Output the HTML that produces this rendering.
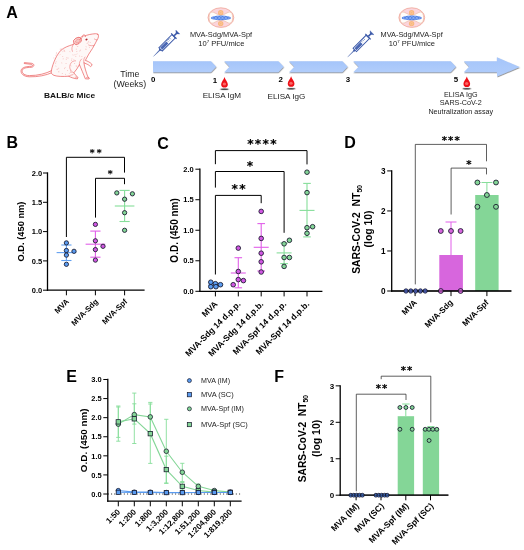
<!DOCTYPE html>
<html><head><meta charset="utf-8"><title>Figure</title>
<style>html,body{margin:0;padding:0;background:#fff;}svg{display:block;font-family:"Liberation Sans", Arial, sans-serif;}</style></head>
<body><svg width="524" height="550" viewBox="0 0 524 550">
<rect width="524" height="550" fill="#fff"/>
<text x="6.30" y="18.00" font-size="16" font-weight="bold" text-anchor="start" fill="#000" >A</text>
<text x="6.50" y="147.80" font-size="16" font-weight="bold" text-anchor="start" fill="#000" >B</text>
<text x="157.20" y="149.20" font-size="16" font-weight="bold" text-anchor="start" fill="#000" >C</text>
<text x="344.20" y="148.40" font-size="16" font-weight="bold" text-anchor="start" fill="#000" >D</text>
<text x="66.30" y="381.80" font-size="16" font-weight="bold" text-anchor="start" fill="#000" >E</text>
<text x="274.20" y="381.80" font-size="16" font-weight="bold" text-anchor="start" fill="#000" >F</text>
<defs><linearGradient id="tlg" x1="0" y1="0" x2="0" y2="1"><stop offset="0" stop-color="#a5c5fa"/><stop offset="1" stop-color="#b1cdfb"/></linearGradient><filter id="sh" x="-5%" y="-20%" width="110%" height="160%"><feDropShadow dx="0.3" dy="0.8" stdDeviation="0.4" flood-color="#444" flood-opacity="0.7"/></filter></defs>
<g filter="url(#sh)">
<polygon points="153.00,61.30 211.00,61.30 216.30,66.75 211.00,72.20 153.00,72.20" fill="url(#tlg)" stroke="none" stroke-width="0" />
<polygon points="224.20,61.30 278.40,61.30 283.70,66.75 278.40,72.20 224.20,72.20 229.50,66.75" fill="url(#tlg)" stroke="none" stroke-width="0" />
<polygon points="289.00,61.30 342.40,61.30 347.70,66.75 342.40,72.20 289.00,72.20 294.30,66.75" fill="url(#tlg)" stroke="none" stroke-width="0" />
<polygon points="353.30,61.30 450.70,61.30 456.00,66.75 450.70,72.20 353.30,72.20 358.60,66.75" fill="url(#tlg)" stroke="none" stroke-width="0" />
<polygon points="463.80,61.30 496.90,61.30 496.90,57.30 519.70,67.05 497.20,76.50 496.90,72.20 463.80,72.20 469.10,66.75" fill="url(#tlg)" stroke="none" stroke-width="0" />
</g>
<text x="129.90" y="76.60" font-size="8.8" font-weight="normal" text-anchor="middle" fill="#222" >Time</text>
<text x="129.80" y="87.40" font-size="8.8" font-weight="normal" text-anchor="middle" fill="#222" >(Weeks)</text>
<text x="153.20" y="82.40" font-size="7.9" font-weight="bold" text-anchor="middle" fill="#000" >0</text>
<text x="214.90" y="82.60" font-size="7.9" font-weight="bold" text-anchor="middle" fill="#000" >1</text>
<text x="280.80" y="82.30" font-size="7.9" font-weight="bold" text-anchor="middle" fill="#000" >2</text>
<text x="347.90" y="82.30" font-size="7.9" font-weight="bold" text-anchor="middle" fill="#000" >3</text>
<text x="455.90" y="81.90" font-size="7.9" font-weight="bold" text-anchor="middle" fill="#000" >5</text>
<ellipse cx="224.50" cy="89.20" rx="3.9" ry="0.75" fill="#2a2a2a" opacity="0.85"/>
<ellipse cx="224.50" cy="89.20" rx="5" ry="1.2" fill="#555" opacity="0.25"/>
<path d="M224.50,76.90 C225.20,79.50 227.85,82.04 227.85,84.25 A3.35,3.35 0 0 1 221.15,84.25 C221.15,82.04 223.80,79.50 224.50,76.90 Z" fill="#ee1018" stroke="none" stroke-width="0" />
<ellipse cx="224.40" cy="84.00" rx="1.7" ry="1.5" fill="#ff8d86" opacity="0.7"/>
<ellipse cx="291.10" cy="88.70" rx="3.9" ry="0.75" fill="#2a2a2a" opacity="0.85"/>
<ellipse cx="291.10" cy="88.70" rx="5" ry="1.2" fill="#555" opacity="0.25"/>
<path d="M291.10,76.30 C291.80,78.90 294.45,81.34 294.45,83.45 A3.35,3.35 0 0 1 287.75,83.45 C287.75,81.34 290.40,78.90 291.10,76.30 Z" fill="#ee1018" stroke="none" stroke-width="0" />
<ellipse cx="291.00" cy="83.20" rx="1.7" ry="1.5" fill="#ff8d86" opacity="0.7"/>
<ellipse cx="466.80" cy="88.70" rx="3.9" ry="0.75" fill="#2a2a2a" opacity="0.85"/>
<ellipse cx="466.80" cy="88.70" rx="5" ry="1.2" fill="#555" opacity="0.25"/>
<path d="M466.80,76.50 C467.50,79.10 470.15,81.54 470.15,83.65 A3.35,3.35 0 0 1 463.45,83.65 C463.45,81.54 466.10,79.10 466.80,76.50 Z" fill="#ee1018" stroke="none" stroke-width="0" />
<ellipse cx="466.70" cy="83.40" rx="1.7" ry="1.5" fill="#ff8d86" opacity="0.7"/>
<text x="221.80" y="97.80" font-size="8.1" font-weight="normal" text-anchor="middle" fill="#222" >ELISA IgM</text>
<text x="286.40" y="98.70" font-size="8.1" font-weight="normal" text-anchor="middle" fill="#222" >ELISA IgG</text>
<text x="460.80" y="96.90" font-size="7.2" font-weight="normal" text-anchor="middle" fill="#222" >ELISA IgG</text>
<text x="460.80" y="105.40" font-size="7.2" font-weight="normal" text-anchor="middle" fill="#222" >SARS-CoV-2</text>
<text x="460.80" y="114.30" font-size="7.2" font-weight="normal" text-anchor="middle" fill="#222" >Neutralization assay</text>
<text x="69.60" y="97.50" font-size="7.9" font-weight="bold" text-anchor="middle" fill="#111" textLength="51" lengthAdjust="spacingAndGlyphs">BALB/c Mice</text>
<text x="221.00" y="37.00" font-size="7.7" font-weight="normal" text-anchor="middle" fill="#222" textLength="62.2" lengthAdjust="spacingAndGlyphs">MVA-Sdg/MVA-Spf</text>
<text x="221.30" y="45.7" font-size="7.55" text-anchor="middle" fill="#222">10<tspan font-size="4.4" dy="-3.1">7</tspan><tspan dy="3.1"> PFU/mice</tspan></text>
<text x="411.60" y="37.00" font-size="7.7" font-weight="normal" text-anchor="middle" fill="#222" textLength="62.2" lengthAdjust="spacingAndGlyphs">MVA-Sdg/MVA-Spf</text>
<text x="411.90" y="45.7" font-size="7.55" text-anchor="middle" fill="#222">10<tspan font-size="4.4" dy="-3.1">7</tspan><tspan dy="3.1"> PFU/mice</tspan></text>
<g transform="translate(220.9,17.6)">
<ellipse cx="0" cy="0" rx="12.9" ry="9.8" fill="#fbd5dc" stroke="#efa595" stroke-width="0.8"/>
<path d="M-11.8,0 C-11.8,-3.6 -10.6,-5.4 -9,-5.6 C-6.5,-5.8 -4.5,-2.6 0,-2.6 C4.5,-2.6 6.5,-5.8 9,-5.6 C10.6,-5.4 11.8,-3.6 11.8,0 C11.8,3.6 10.6,5.4 9,5.6 C6.5,5.8 4.5,2.6 0,2.6 C-4.5,2.6 -6.5,5.8 -9,5.6 C-10.6,5.4 -11.8,3.6 -11.8,0 Z" fill="#fffdfb" stroke="#e9b39a" stroke-width="0.6" />
<circle cx="-0.2" cy="-4.9" r="2.7" fill="#f9b77e"/>
<circle cx="-0.2" cy="6.0" r="2.7" fill="#f9b77e"/>
<circle cx="-0.2" cy="-4.9" r="1.2" fill="none" stroke="#fbd0a6" stroke-width="0.5"/>
<circle cx="-0.2" cy="6.0" r="1.2" fill="none" stroke="#fbd0a6" stroke-width="0.5"/>
<ellipse cx="0" cy="0.3" rx="10.1" ry="2.3" fill="#4f80e6"/>
<path d="M-8.6,0.3 C-7.5,-1.6 -6,-1.6 -5,0.3 C-4,2.2 -2.5,2.2 -1.6,0.3 C-0.8,-1.6 0.8,-1.6 1.6,0.3 C2.5,2.2 4,2.2 5,0.3 C6,-1.6 7.5,-1.6 8.6,0.3 M-8.6,0.3 C-7.5,2.2 -6,2.2 -5,0.3 C-4,-1.6 -2.5,-1.6 -1.6,0.3 C-0.8,2.2 0.8,2.2 1.6,0.3 C2.5,-1.6 4,-1.6 5,0.3 C6,2.2 7.5,2.2 8.6,0.3" fill="none" stroke="#a9c6f8" stroke-width="0.55" />
</g>
<g transform="translate(411.8,17.6)">
<ellipse cx="0" cy="0" rx="12.9" ry="9.8" fill="#fbd5dc" stroke="#efa595" stroke-width="0.8"/>
<path d="M-11.8,0 C-11.8,-3.6 -10.6,-5.4 -9,-5.6 C-6.5,-5.8 -4.5,-2.6 0,-2.6 C4.5,-2.6 6.5,-5.8 9,-5.6 C10.6,-5.4 11.8,-3.6 11.8,0 C11.8,3.6 10.6,5.4 9,5.6 C6.5,5.8 4.5,2.6 0,2.6 C-4.5,2.6 -6.5,5.8 -9,5.6 C-10.6,5.4 -11.8,3.6 -11.8,0 Z" fill="#fffdfb" stroke="#e9b39a" stroke-width="0.6" />
<circle cx="-0.2" cy="-4.9" r="2.7" fill="#f9b77e"/>
<circle cx="-0.2" cy="6.0" r="2.7" fill="#f9b77e"/>
<circle cx="-0.2" cy="-4.9" r="1.2" fill="none" stroke="#fbd0a6" stroke-width="0.5"/>
<circle cx="-0.2" cy="6.0" r="1.2" fill="none" stroke="#fbd0a6" stroke-width="0.5"/>
<ellipse cx="0" cy="0.3" rx="10.1" ry="2.3" fill="#4f80e6"/>
<path d="M-8.6,0.3 C-7.5,-1.6 -6,-1.6 -5,0.3 C-4,2.2 -2.5,2.2 -1.6,0.3 C-0.8,-1.6 0.8,-1.6 1.6,0.3 C2.5,2.2 4,2.2 5,0.3 C6,-1.6 7.5,-1.6 8.6,0.3 M-8.6,0.3 C-7.5,2.2 -6,2.2 -5,0.3 C-4,-1.6 -2.5,-1.6 -1.6,0.3 C-0.8,2.2 0.8,2.2 1.6,0.3 C2.5,-1.6 4,-1.6 5,0.3 C6,2.2 7.5,2.2 8.6,0.3" fill="none" stroke="#a9c6f8" stroke-width="0.55" />
</g>
<g transform="translate(153.5,56.4) rotate(-45)">
<path d="M0,0 L9.5,-0.45 L9.5,0.45 Z" fill="#3a58a8" stroke="#3a58a8" stroke-width="0.25" />
<rect x="8.60" y="-1.00" width="1.60" height="2.00" fill="#3a58a8" stroke="none" stroke-width="0" />
<rect x="10.00" y="-2.40" width="18.40" height="4.80" fill="#fff" stroke="#3a58a8" stroke-width="0.95" />
<rect x="11.00" y="-1.45" width="8.60" height="2.90" fill="#4a67b4" stroke="none" stroke-width="0" />
<line x1="20.90" y1="-2.00" x2="20.90" y2="0.10" stroke="#3a58a8" stroke-width="0.6" />
<line x1="22.60" y1="-2.00" x2="22.60" y2="0.10" stroke="#3a58a8" stroke-width="0.6" />
<line x1="24.30" y1="-2.00" x2="24.30" y2="0.10" stroke="#3a58a8" stroke-width="0.6" />
<rect x="28.20" y="-3.80" width="1.15" height="7.60" fill="#3a58a8" stroke="none" stroke-width="0" />
<rect x="29.20" y="-0.80" width="4.40" height="1.60" fill="#3a58a8" stroke="none" stroke-width="0" />
<path d="M32.6,-0.8 L34.4,-2.8 L34.4,2.8 L32.6,0.8 Z" fill="#3a58a8" stroke="#3a58a8" stroke-width="0.3" />
</g>
<g transform="translate(347.7,57.0) rotate(-45)">
<path d="M0,0 L9.5,-0.45 L9.5,0.45 Z" fill="#3a58a8" stroke="#3a58a8" stroke-width="0.25" />
<rect x="8.60" y="-1.00" width="1.60" height="2.00" fill="#3a58a8" stroke="none" stroke-width="0" />
<rect x="10.00" y="-2.40" width="18.40" height="4.80" fill="#fff" stroke="#3a58a8" stroke-width="0.95" />
<rect x="11.00" y="-1.45" width="8.60" height="2.90" fill="#4a67b4" stroke="none" stroke-width="0" />
<line x1="20.90" y1="-2.00" x2="20.90" y2="0.10" stroke="#3a58a8" stroke-width="0.6" />
<line x1="22.60" y1="-2.00" x2="22.60" y2="0.10" stroke="#3a58a8" stroke-width="0.6" />
<line x1="24.30" y1="-2.00" x2="24.30" y2="0.10" stroke="#3a58a8" stroke-width="0.6" />
<rect x="28.20" y="-3.80" width="1.15" height="7.60" fill="#3a58a8" stroke="none" stroke-width="0" />
<rect x="29.20" y="-0.80" width="4.40" height="1.60" fill="#3a58a8" stroke="none" stroke-width="0" />
<path d="M32.6,-0.8 L34.4,-2.8 L34.4,2.8 L32.6,0.8 Z" fill="#3a58a8" stroke="#3a58a8" stroke-width="0.3" />
</g>
<g fill="#fef8f7" stroke="#e84e4e" stroke-width="0.65" stroke-linejoin="round" stroke-linecap="round">
<path d="M51.6,70.6 C46,73.6 38,75.6 29.4,75.6 C24.6,75.5 21.8,73.4 22.2,70.6 C22.7,67.8 27,67.5 31.2,67.3 C34.6,67 34.8,63.7 31.6,63.3 L24.3,62.6 L24.2,63.5 L31,64.3 C33,64.5 33,66.2 31.2,66.3 C27,66.5 21.8,66.9 21.1,70.4 C20.6,73.6 23.4,76.5 29.2,76.8 C38,77 46,75.4 52.2,72.6 Z"/>
<path d="M97.9,34.3 C99.1,35.5 98.5,38 97.1,39.8 C96,42 95,44 94.2,45.4 C93,47.6 92,49.4 90.8,51 C89.4,53 88,55.4 87.2,57 C86.4,58.6 85.6,59.8 85.3,60.4 C87.6,61 90,62.4 91.6,63.9 L92.1,65.2 L90.6,66.6 C89,65.2 87.4,64.2 86.2,63.8 C85,63.4 84.3,63 83.9,62.6 C84.4,67 86.4,73 87.9,77 L89.4,78 L88.9,79 L85.3,78.8 C83.6,74.6 81.2,68.6 79.4,64.6 C78,67.4 76,70.6 73.8,72.9 L77.9,77.6 L77.4,78.9 C74,78.6 71,77.4 68.6,76.2 C63,76.7 57,76.5 54,75.4 C51.6,74.4 50.8,72.6 51.3,71 C52,67 53.6,62.4 55.3,58.9 C57,55.4 58.7,52.6 61,50.2 C64,47.6 68,46 73.4,44.4 C75,42 77.6,39 80.2,37.6 C81.6,36.8 83,36.3 84.5,36 C87,35 91,34 95.4,33.7 C96.4,33.7 97.3,33.9 97.9,34.3 Z"/>
<path d="M82.3,37 C82,35.6 83.2,34.7 84.4,35 C85.3,35.2 85.7,36 85.5,36.6" fill="#fbdedc"/>
<ellipse cx="77.5" cy="40.8" rx="4.3" ry="3.1" transform="rotate(-32 77.5 40.8)" fill="#fbd9d7"/>
<ellipse cx="77.9" cy="41" rx="2.6" ry="1.7" transform="rotate(-32 77.9 41)" fill="#f7c3c1" stroke-width="0.3"/>
<path d="M73.8,72.9 C70.2,71.4 68.8,67.4 70.4,64 C71.4,61.8 73.6,60.6 75.6,60.8 M79.4,64.6 C79.2,62.6 80,60.4 81.6,59 M83.9,62.6 C83.4,60.4 83.8,58.4 85,57 M94.2,45.4 C92.4,46 90.2,45.8 88.6,45 M73.4,44.4 C71.8,46.4 71.4,49 72.4,51.4 M97.1,39.8 C96,39.9 95,39.5 94.3,38.9 M68.6,76.2 C70,75.4 71.6,74.8 73,74.6 M75.2,77.2 L77.2,77.3 M86.4,77.6 L88.4,77.7" fill="none" stroke-width="0.45"/>
</g>
<ellipse cx="86.5" cy="39.5" rx="1.15" ry="0.8" fill="#b3262c" transform="rotate(-28 86.5 39.5)"/>
<line x1="55.44" y1="55.79" x2="56.33" y2="55.90" stroke="#ee8886" stroke-width="0.45" />
<line x1="56.81" y1="52.56" x2="56.04" y2="53.02" stroke="#ee8886" stroke-width="0.45" />
<line x1="77.24" y1="51.47" x2="76.34" y2="51.54" stroke="#ee8886" stroke-width="0.45" />
<line x1="87.28" y1="43.05" x2="87.05" y2="43.92" stroke="#ee8886" stroke-width="0.45" />
<line x1="79.83" y1="50.52" x2="79.70" y2="51.41" stroke="#ee8886" stroke-width="0.45" />
<line x1="61.65" y1="62.54" x2="61.85" y2="63.41" stroke="#ee8886" stroke-width="0.45" />
<line x1="66.19" y1="58.84" x2="66.33" y2="59.73" stroke="#ee8886" stroke-width="0.45" />
<line x1="65.59" y1="66.98" x2="65.06" y2="67.71" stroke="#ee8886" stroke-width="0.45" />
<line x1="63.25" y1="58.40" x2="63.18" y2="59.30" stroke="#ee8886" stroke-width="0.45" />
<line x1="65.09" y1="74.23" x2="65.93" y2="74.55" stroke="#ee8886" stroke-width="0.45" />
<line x1="70.56" y1="65.53" x2="71.36" y2="65.94" stroke="#ee8886" stroke-width="0.45" />
<line x1="66.18" y1="63.12" x2="65.92" y2="63.98" stroke="#ee8886" stroke-width="0.45" />
<line x1="77.36" y1="53.79" x2="76.57" y2="54.23" stroke="#ee8886" stroke-width="0.45" />
<line x1="64.95" y1="51.05" x2="64.50" y2="51.82" stroke="#ee8886" stroke-width="0.45" />
<line x1="55.48" y1="65.96" x2="56.30" y2="66.32" stroke="#ee8886" stroke-width="0.45" />
<line x1="63.40" y1="51.25" x2="62.57" y2="51.60" stroke="#ee8886" stroke-width="0.45" />
<line x1="56.38" y1="53.52" x2="56.25" y2="54.41" stroke="#ee8886" stroke-width="0.45" />
<line x1="89.29" y1="46.86" x2="89.52" y2="47.73" stroke="#ee8886" stroke-width="0.45" />
<line x1="68.07" y1="70.48" x2="67.18" y2="70.60" stroke="#ee8886" stroke-width="0.45" />
<line x1="73.37" y1="58.98" x2="73.98" y2="59.64" stroke="#ee8886" stroke-width="0.45" />
<line x1="68.51" y1="58.09" x2="67.62" y2="58.22" stroke="#ee8886" stroke-width="0.45" />
<line x1="82.00" y1="56.10" x2="81.68" y2="56.94" stroke="#ee8886" stroke-width="0.45" />
<line x1="69.48" y1="51.56" x2="70.33" y2="51.85" stroke="#ee8886" stroke-width="0.45" />
<line x1="59.82" y1="49.26" x2="60.70" y2="49.41" stroke="#ee8886" stroke-width="0.45" />
<line x1="63.59" y1="49.55" x2="63.97" y2="50.37" stroke="#ee8886" stroke-width="0.45" />
<line x1="58.16" y1="69.11" x2="57.26" y2="69.13" stroke="#ee8886" stroke-width="0.45" />
<line x1="72.57" y1="54.87" x2="73.44" y2="55.11" stroke="#ee8886" stroke-width="0.45" />
<line x1="64.12" y1="68.33" x2="64.91" y2="68.76" stroke="#ee8886" stroke-width="0.45" />
<line x1="63.97" y1="50.30" x2="64.75" y2="50.75" stroke="#ee8886" stroke-width="0.45" />
<line x1="85.72" y1="48.86" x2="86.41" y2="49.44" stroke="#ee8886" stroke-width="0.45" />
<line x1="62.52" y1="56.19" x2="62.92" y2="57.00" stroke="#ee8886" stroke-width="0.45" />
<line x1="71.78" y1="72.54" x2="70.88" y2="72.58" stroke="#ee8886" stroke-width="0.45" />
<line x1="56.56" y1="61.76" x2="55.70" y2="62.02" stroke="#ee8886" stroke-width="0.45" />
<line x1="86.14" y1="48.97" x2="85.41" y2="49.50" stroke="#ee8886" stroke-width="0.45" />
<line x1="69.86" y1="72.93" x2="69.27" y2="73.61" stroke="#ee8886" stroke-width="0.45" />
<line x1="59.35" y1="71.29" x2="58.61" y2="71.80" stroke="#ee8886" stroke-width="0.45" />
<line x1="59.14" y1="68.23" x2="58.24" y2="68.29" stroke="#ee8886" stroke-width="0.45" />
<line x1="80.61" y1="49.67" x2="80.47" y2="50.56" stroke="#ee8886" stroke-width="0.45" />
<line x1="71.22" y1="70.00" x2="70.45" y2="70.47" stroke="#ee8886" stroke-width="0.45" />
<line x1="77.63" y1="46.12" x2="77.86" y2="46.99" stroke="#ee8886" stroke-width="0.45" />
<line x1="58.51" y1="71.49" x2="58.90" y2="72.30" stroke="#ee8886" stroke-width="0.45" />
<line x1="72.24" y1="58.75" x2="71.38" y2="59.02" stroke="#ee8886" stroke-width="0.45" />
<line x1="70.67" y1="71.79" x2="70.66" y2="72.69" stroke="#ee8886" stroke-width="0.45" />
<line x1="75.34" y1="56.42" x2="76.24" y2="56.47" stroke="#ee8886" stroke-width="0.45" />
<line x1="60.24" y1="54.47" x2="59.65" y2="55.15" stroke="#ee8886" stroke-width="0.45" />
<line x1="76.37" y1="48.71" x2="76.32" y2="49.61" stroke="#ee8886" stroke-width="0.45" />
<line x1="76.33" y1="66.59" x2="77.18" y2="66.88" stroke="#ee8886" stroke-width="0.45" />
<line x1="76.53" y1="45.69" x2="77.11" y2="46.38" stroke="#ee8886" stroke-width="0.45" />
<line x1="76.59" y1="65.64" x2="75.73" y2="65.89" stroke="#ee8886" stroke-width="0.45" />
<line x1="71.62" y1="59.89" x2="71.60" y2="60.79" stroke="#ee8886" stroke-width="0.45" />
<line x1="74.51" y1="63.02" x2="74.65" y2="63.91" stroke="#ee8886" stroke-width="0.45" />
<line x1="75.40" y1="54.64" x2="74.51" y2="54.81" stroke="#ee8886" stroke-width="0.45" />
<line x1="88.28" y1="41.35" x2="89.12" y2="41.68" stroke="#ee8886" stroke-width="0.45" />
<line x1="90.68" y1="42.02" x2="90.11" y2="42.72" stroke="#ee8886" stroke-width="0.45" />
<line x1="62.22" y1="73.15" x2="62.51" y2="74.00" stroke="#ee8886" stroke-width="0.45" />
<line x1="87.96" y1="42.30" x2="88.16" y2="43.18" stroke="#ee8886" stroke-width="0.45" />
<line x1="61.22" y1="48.42" x2="60.64" y2="49.11" stroke="#ee8886" stroke-width="0.45" />
<line x1="53.82" y1="57.61" x2="53.99" y2="58.49" stroke="#ee8886" stroke-width="0.45" />
<line x1="79.20" y1="55.98" x2="80.09" y2="56.16" stroke="#ee8886" stroke-width="0.45" />
<line x1="85.72" y1="46.55" x2="86.54" y2="46.90" stroke="#ee8886" stroke-width="0.45" />
<line x1="70.73" y1="71.55" x2="69.98" y2="72.03" stroke="#ee8886" stroke-width="0.45" />
<line x1="55.42" y1="62.84" x2="55.63" y2="63.72" stroke="#ee8886" stroke-width="0.45" />
<line x1="56.52" y1="69.39" x2="57.40" y2="69.58" stroke="#ee8886" stroke-width="0.45" />
<line x1="67.24" y1="57.57" x2="66.37" y2="57.78" stroke="#ee8886" stroke-width="0.45" />
<line x1="47.50" y1="172.35" x2="47.50" y2="290.85" stroke="#000" stroke-width="1.3" />
<line x1="46.85" y1="290.20" x2="144.60" y2="290.20" stroke="#000" stroke-width="1.3" />
<line x1="43.00" y1="290.20" x2="47.50" y2="290.20" stroke="#000" stroke-width="1.0" />
<text x="42.30" y="292.90" font-size="7.5" font-weight="bold" text-anchor="end" fill="#000" >0.0</text>
<line x1="43.00" y1="260.90" x2="47.50" y2="260.90" stroke="#000" stroke-width="1.0" />
<text x="42.30" y="263.60" font-size="7.5" font-weight="bold" text-anchor="end" fill="#000" >0.5</text>
<line x1="43.00" y1="231.60" x2="47.50" y2="231.60" stroke="#000" stroke-width="1.0" />
<text x="42.30" y="234.30" font-size="7.5" font-weight="bold" text-anchor="end" fill="#000" >1.0</text>
<line x1="43.00" y1="202.30" x2="47.50" y2="202.30" stroke="#000" stroke-width="1.0" />
<text x="42.30" y="205.00" font-size="7.5" font-weight="bold" text-anchor="end" fill="#000" >1.5</text>
<line x1="43.00" y1="173.00" x2="47.50" y2="173.00" stroke="#000" stroke-width="1.0" />
<text x="42.30" y="175.70" font-size="7.5" font-weight="bold" text-anchor="end" fill="#000" >2.0</text>
<line x1="66.40" y1="290.20" x2="66.40" y2="295.30" stroke="#000" stroke-width="1.0" />
<line x1="95.40" y1="290.20" x2="95.40" y2="295.30" stroke="#000" stroke-width="1.0" />
<line x1="124.60" y1="290.20" x2="124.60" y2="295.30" stroke="#000" stroke-width="1.0" />
<text x="0" y="0" transform="translate(23.70,231.50) rotate(-90)" font-size="9.3" font-weight="bold" text-anchor="middle" fill="#000" >O.D. (450 nm)</text>
<path d="M66.40,237.00 V157.30 H124.50 V172.60" fill="none" stroke="#000" stroke-width="1.0" />
<text x="96.75" y="155.70" font-size="9.2" font-weight="bold" text-anchor="middle" fill="#000" letter-spacing="2.3" font-family="DejaVu Sans, sans-serif" stroke="#000" stroke-width="0.15">**</text>
<path d="M95.50,217.60 V178.30 H124.50 V184.20" fill="none" stroke="#000" stroke-width="1.0" />
<text x="111.35" y="176.70" font-size="9.2" font-weight="bold" text-anchor="middle" fill="#000" letter-spacing="2.3" font-family="DejaVu Sans, sans-serif" stroke="#000" stroke-width="0.15">*</text>
<line x1="66.40" y1="245.00" x2="66.40" y2="260.50" stroke="#62a0f1" stroke-width="1.1" />
<line x1="56.60" y1="252.60" x2="76.20" y2="252.60" stroke="#62a0f1" stroke-width="1.1" />
<line x1="61.30" y1="245.00" x2="71.50" y2="245.00" stroke="#62a0f1" stroke-width="1.1" />
<line x1="61.30" y1="260.50" x2="71.50" y2="260.50" stroke="#62a0f1" stroke-width="1.1" />
<line x1="95.40" y1="231.10" x2="95.40" y2="257.20" stroke="#e15fe9" stroke-width="1.1" />
<line x1="85.60" y1="244.20" x2="105.20" y2="244.20" stroke="#e15fe9" stroke-width="1.1" />
<line x1="90.30" y1="231.10" x2="100.50" y2="231.10" stroke="#e15fe9" stroke-width="1.1" />
<line x1="90.30" y1="257.20" x2="100.50" y2="257.20" stroke="#e15fe9" stroke-width="1.1" />
<line x1="124.60" y1="190.40" x2="124.60" y2="221.50" stroke="#86de9a" stroke-width="1.1" />
<line x1="114.80" y1="206.00" x2="134.40" y2="206.00" stroke="#86de9a" stroke-width="1.1" />
<line x1="119.50" y1="190.40" x2="129.70" y2="190.40" stroke="#86de9a" stroke-width="1.1" />
<line x1="119.50" y1="221.50" x2="129.70" y2="221.50" stroke="#86de9a" stroke-width="1.1" />
<circle cx="66.40" cy="242.90" r="2.15" fill="#5a9bf0" stroke="#15172a" stroke-width="0.85"/>
<circle cx="66.40" cy="250.50" r="2.15" fill="#5a9bf0" stroke="#15172a" stroke-width="0.85"/>
<circle cx="74.00" cy="251.30" r="2.15" fill="#5a9bf0" stroke="#15172a" stroke-width="0.85"/>
<circle cx="66.40" cy="255.10" r="2.15" fill="#5a9bf0" stroke="#15172a" stroke-width="0.85"/>
<circle cx="66.40" cy="264.30" r="2.15" fill="#5a9bf0" stroke="#15172a" stroke-width="0.85"/>
<circle cx="95.40" cy="224.40" r="2.15" fill="#d257e3" stroke="#15172a" stroke-width="0.85"/>
<circle cx="95.40" cy="240.80" r="2.15" fill="#d257e3" stroke="#15172a" stroke-width="0.85"/>
<circle cx="103.00" cy="246.30" r="2.15" fill="#d257e3" stroke="#15172a" stroke-width="0.85"/>
<circle cx="95.40" cy="249.60" r="2.15" fill="#d257e3" stroke="#15172a" stroke-width="0.85"/>
<circle cx="95.40" cy="260.10" r="2.15" fill="#d257e3" stroke="#15172a" stroke-width="0.85"/>
<circle cx="116.80" cy="192.90" r="2.15" fill="#84d697" stroke="#15172a" stroke-width="0.85"/>
<circle cx="132.40" cy="193.80" r="2.15" fill="#84d697" stroke="#15172a" stroke-width="0.85"/>
<circle cx="124.60" cy="199.20" r="2.15" fill="#84d697" stroke="#15172a" stroke-width="0.85"/>
<circle cx="124.60" cy="212.70" r="2.15" fill="#84d697" stroke="#15172a" stroke-width="0.85"/>
<circle cx="124.60" cy="230.30" r="2.15" fill="#84d697" stroke="#15172a" stroke-width="0.85"/>
<text x="0" y="0" transform="translate(69.60,302.10) rotate(-45)" font-size="7.8" font-weight="bold" text-anchor="end" fill="#000" >MVA</text>
<text x="0" y="0" transform="translate(98.60,302.10) rotate(-45)" font-size="7.8" font-weight="bold" text-anchor="end" fill="#000" >MVA-Sdg</text>
<text x="0" y="0" transform="translate(127.80,302.10) rotate(-45)" font-size="7.8" font-weight="bold" text-anchor="end" fill="#000" >MVA-Spf</text>
<line x1="199.90" y1="168.55" x2="199.90" y2="291.95" stroke="#000" stroke-width="1.3" />
<line x1="199.25" y1="291.30" x2="322.40" y2="291.30" stroke="#000" stroke-width="1.3" />
<line x1="195.40" y1="291.30" x2="199.90" y2="291.30" stroke="#000" stroke-width="1.0" />
<text x="193.80" y="294.00" font-size="7.5" font-weight="bold" text-anchor="end" fill="#000" >0.0</text>
<line x1="195.40" y1="260.78" x2="199.90" y2="260.78" stroke="#000" stroke-width="1.0" />
<text x="193.80" y="263.48" font-size="7.5" font-weight="bold" text-anchor="end" fill="#000" >0.5</text>
<line x1="195.40" y1="230.25" x2="199.90" y2="230.25" stroke="#000" stroke-width="1.0" />
<text x="193.80" y="232.95" font-size="7.5" font-weight="bold" text-anchor="end" fill="#000" >1.0</text>
<line x1="195.40" y1="199.73" x2="199.90" y2="199.73" stroke="#000" stroke-width="1.0" />
<text x="193.80" y="202.43" font-size="7.5" font-weight="bold" text-anchor="end" fill="#000" >1.5</text>
<line x1="195.40" y1="169.20" x2="199.90" y2="169.20" stroke="#000" stroke-width="1.0" />
<text x="193.80" y="171.90" font-size="7.5" font-weight="bold" text-anchor="end" fill="#000" >2.0</text>
<line x1="215.40" y1="291.30" x2="215.40" y2="296.40" stroke="#000" stroke-width="1.0" />
<line x1="238.30" y1="291.30" x2="238.30" y2="296.40" stroke="#000" stroke-width="1.0" />
<line x1="261.20" y1="291.30" x2="261.20" y2="296.40" stroke="#000" stroke-width="1.0" />
<line x1="284.10" y1="291.30" x2="284.10" y2="296.40" stroke="#000" stroke-width="1.0" />
<line x1="307.00" y1="291.30" x2="307.00" y2="296.40" stroke="#000" stroke-width="1.0" />
<text x="0" y="0" transform="translate(177.60,230.40) rotate(-90)" font-size="10" font-weight="bold" text-anchor="middle" fill="#000" >O.D. (450 nm)</text>
<path d="M215.40,164.20 V150.60 H307.00 V164.40" fill="none" stroke="#000" stroke-width="1.0" />
<text x="262.55" y="148.13" font-size="12.2" font-weight="bold" text-anchor="middle" fill="#000" letter-spacing="1.3" font-family="DejaVu Sans, sans-serif" stroke="#000" stroke-width="0.15">****</text>
<path d="M215.40,187.60 V171.50 H284.10 V232.80" fill="none" stroke="#000" stroke-width="1.0" />
<text x="250.55" y="169.73" font-size="12.2" font-weight="bold" text-anchor="middle" fill="#000" letter-spacing="1.3" font-family="DejaVu Sans, sans-serif" stroke="#000" stroke-width="0.15">*</text>
<path d="M215.40,274.50 V195.40 H261.20 V203.20" fill="none" stroke="#000" stroke-width="1.0" />
<text x="239.25" y="193.43" font-size="12.2" font-weight="bold" text-anchor="middle" fill="#000" letter-spacing="1.3" font-family="DejaVu Sans, sans-serif" stroke="#000" stroke-width="0.15">**</text>
<line x1="215.40" y1="283.20" x2="215.40" y2="286.80" stroke="#62a0f1" stroke-width="1.1" />
<line x1="208.00" y1="285.00" x2="222.80" y2="285.00" stroke="#62a0f1" stroke-width="1.1" />
<line x1="211.70" y1="283.20" x2="219.10" y2="283.20" stroke="#62a0f1" stroke-width="1.1" />
<line x1="211.70" y1="286.80" x2="219.10" y2="286.80" stroke="#62a0f1" stroke-width="1.1" />
<line x1="238.30" y1="257.70" x2="238.30" y2="287.80" stroke="#e15fe9" stroke-width="1.1" />
<line x1="230.80" y1="273.00" x2="245.80" y2="273.00" stroke="#e15fe9" stroke-width="1.1" />
<line x1="234.50" y1="257.70" x2="242.10" y2="257.70" stroke="#e15fe9" stroke-width="1.1" />
<line x1="234.50" y1="287.80" x2="242.10" y2="287.80" stroke="#e15fe9" stroke-width="1.1" />
<line x1="261.20" y1="223.60" x2="261.20" y2="271.00" stroke="#e15fe9" stroke-width="1.1" />
<line x1="253.70" y1="247.30" x2="268.70" y2="247.30" stroke="#e15fe9" stroke-width="1.1" />
<line x1="257.40" y1="223.60" x2="265.00" y2="223.60" stroke="#e15fe9" stroke-width="1.1" />
<line x1="257.40" y1="271.00" x2="265.00" y2="271.00" stroke="#e15fe9" stroke-width="1.1" />
<line x1="284.10" y1="243.00" x2="284.10" y2="263.60" stroke="#86de9a" stroke-width="1.1" />
<line x1="276.60" y1="252.90" x2="291.60" y2="252.90" stroke="#86de9a" stroke-width="1.1" />
<line x1="280.30" y1="243.00" x2="287.90" y2="243.00" stroke="#86de9a" stroke-width="1.1" />
<line x1="280.30" y1="263.60" x2="287.90" y2="263.60" stroke="#86de9a" stroke-width="1.1" />
<line x1="307.00" y1="183.40" x2="307.00" y2="236.90" stroke="#86de9a" stroke-width="1.1" />
<line x1="299.50" y1="210.40" x2="314.50" y2="210.40" stroke="#86de9a" stroke-width="1.1" />
<line x1="303.20" y1="183.40" x2="310.80" y2="183.40" stroke="#86de9a" stroke-width="1.1" />
<line x1="303.20" y1="236.90" x2="310.80" y2="236.90" stroke="#86de9a" stroke-width="1.1" />
<circle cx="210.80" cy="282.20" r="2.3" fill="#5a9bf0" stroke="#15172a" stroke-width="0.85"/>
<circle cx="215.40" cy="283.70" r="2.3" fill="#5a9bf0" stroke="#15172a" stroke-width="0.85"/>
<circle cx="220.50" cy="284.70" r="2.3" fill="#5a9bf0" stroke="#15172a" stroke-width="0.85"/>
<circle cx="210.80" cy="286.70" r="2.3" fill="#5a9bf0" stroke="#15172a" stroke-width="0.85"/>
<circle cx="215.90" cy="286.70" r="2.3" fill="#5a9bf0" stroke="#15172a" stroke-width="0.85"/>
<circle cx="238.30" cy="248.10" r="2.3" fill="#d257e3" stroke="#15172a" stroke-width="0.85"/>
<circle cx="238.30" cy="271.50" r="2.3" fill="#d257e3" stroke="#15172a" stroke-width="0.85"/>
<circle cx="243.40" cy="280.60" r="2.3" fill="#d257e3" stroke="#15172a" stroke-width="0.85"/>
<circle cx="238.30" cy="279.60" r="2.3" fill="#d257e3" stroke="#15172a" stroke-width="0.85"/>
<circle cx="233.20" cy="284.70" r="2.3" fill="#d257e3" stroke="#15172a" stroke-width="0.85"/>
<circle cx="261.20" cy="211.40" r="2.3" fill="#d257e3" stroke="#15172a" stroke-width="0.85"/>
<circle cx="261.20" cy="238.40" r="2.3" fill="#d257e3" stroke="#15172a" stroke-width="0.85"/>
<circle cx="261.20" cy="253.20" r="2.3" fill="#d257e3" stroke="#15172a" stroke-width="0.85"/>
<circle cx="261.20" cy="261.80" r="2.3" fill="#d257e3" stroke="#15172a" stroke-width="0.85"/>
<circle cx="261.20" cy="272.00" r="2.3" fill="#d257e3" stroke="#15172a" stroke-width="0.85"/>
<circle cx="289.40" cy="240.30" r="2.3" fill="#84d697" stroke="#15172a" stroke-width="0.85"/>
<circle cx="284.10" cy="243.80" r="2.3" fill="#84d697" stroke="#15172a" stroke-width="0.85"/>
<circle cx="284.10" cy="257.50" r="2.3" fill="#84d697" stroke="#15172a" stroke-width="0.85"/>
<circle cx="289.40" cy="257.50" r="2.3" fill="#84d697" stroke="#15172a" stroke-width="0.85"/>
<circle cx="284.10" cy="266.40" r="2.3" fill="#84d697" stroke="#15172a" stroke-width="0.85"/>
<circle cx="307.00" cy="172.20" r="2.3" fill="#84d697" stroke="#15172a" stroke-width="0.85"/>
<circle cx="307.00" cy="192.60" r="2.3" fill="#84d697" stroke="#15172a" stroke-width="0.85"/>
<circle cx="312.60" cy="226.70" r="2.3" fill="#84d697" stroke="#15172a" stroke-width="0.85"/>
<circle cx="307.00" cy="227.70" r="2.3" fill="#84d697" stroke="#15172a" stroke-width="0.85"/>
<circle cx="307.00" cy="233.30" r="2.3" fill="#84d697" stroke="#15172a" stroke-width="0.85"/>
<text x="0" y="0" transform="translate(218.20,304.70) rotate(-45)" font-size="8.5" font-weight="bold" text-anchor="end" fill="#000" >MVA</text>
<text x="0" y="0" transform="translate(241.10,304.70) rotate(-45)" font-size="8.5" font-weight="bold" text-anchor="end" fill="#000" >MVA-Sdg 14 d.p.p.</text>
<text x="0" y="0" transform="translate(264.00,304.70) rotate(-45)" font-size="8.5" font-weight="bold" text-anchor="end" fill="#000" >MVA-Sdg 14 d.p.b.</text>
<text x="0" y="0" transform="translate(286.90,304.70) rotate(-45)" font-size="8.5" font-weight="bold" text-anchor="end" fill="#000" >MVA-Spf 14 d.p.p.</text>
<text x="0" y="0" transform="translate(309.80,304.70) rotate(-45)" font-size="8.5" font-weight="bold" text-anchor="end" fill="#000" >MVA-Spf 14 d.p.b.</text>
<rect x="439.30" y="255.00" width="23.60" height="36.00" fill="#d766dd" stroke="none" stroke-width="0" />
<rect x="475.20" y="195.00" width="23.40" height="96.00" fill="#84d697" stroke="none" stroke-width="0" />
<line x1="451.00" y1="222.00" x2="451.00" y2="255.00" stroke="#e15fe9" stroke-width="1.0" />
<line x1="445.50" y1="222.00" x2="456.50" y2="222.00" stroke="#e15fe9" stroke-width="1.0" />
<line x1="486.90" y1="182.50" x2="486.90" y2="195.00" stroke="#86de9a" stroke-width="1.0" />
<line x1="481.50" y1="182.50" x2="492.40" y2="182.50" stroke="#86de9a" stroke-width="1.0" />
<line x1="391.70" y1="170.26" x2="391.70" y2="291.65" stroke="#000" stroke-width="1.3" />
<line x1="391.05" y1="291.00" x2="511.40" y2="291.00" stroke="#000" stroke-width="1.3" />
<line x1="387.20" y1="291.00" x2="391.70" y2="291.00" stroke="#000" stroke-width="1.0" />
<text x="385.60" y="293.95" font-size="8.2" font-weight="bold" text-anchor="end" fill="#000" >0</text>
<line x1="387.20" y1="250.97" x2="391.70" y2="250.97" stroke="#000" stroke-width="1.0" />
<text x="385.60" y="253.92" font-size="8.2" font-weight="bold" text-anchor="end" fill="#000" >1</text>
<line x1="387.20" y1="210.94" x2="391.70" y2="210.94" stroke="#000" stroke-width="1.0" />
<text x="385.60" y="213.89" font-size="8.2" font-weight="bold" text-anchor="end" fill="#000" >2</text>
<line x1="387.20" y1="170.91" x2="391.70" y2="170.91" stroke="#000" stroke-width="1.0" />
<text x="385.60" y="173.86" font-size="8.2" font-weight="bold" text-anchor="end" fill="#000" >3</text>
<line x1="415.10" y1="291.00" x2="415.10" y2="296.10" stroke="#000" stroke-width="1.0" />
<line x1="451.00" y1="291.00" x2="451.00" y2="296.10" stroke="#000" stroke-width="1.0" />
<line x1="486.90" y1="291.00" x2="486.90" y2="296.10" stroke="#000" stroke-width="1.0" />
<text transform="translate(359.5,273.8) rotate(-90)" font-size="10" font-weight="bold" text-anchor="start"><tspan textLength="81.2" lengthAdjust="spacingAndGlyphs">SARS-CoV-2 &#160;NT</tspan><tspan font-size="7.2" dy="2.0" letter-spacing="-0.3">50</tspan></text>
<text x="0" y="0" transform="translate(372.00,229.00) rotate(-90)" font-size="10" font-weight="bold" text-anchor="middle" fill="#000" textLength="36.8" lengthAdjust="spacingAndGlyphs">(log 10)</text>
<path d="M415.30,284.40 V144.40 H486.50 V161.30" fill="none" stroke="#2a2a2a" stroke-width="0.75" />
<text x="451.25" y="143.50" font-size="10.0" font-weight="bold" text-anchor="middle" fill="#000" letter-spacing="1.1" font-family="DejaVu Sans, sans-serif" stroke="#000" stroke-width="0.15">***</text>
<path d="M451.10,214.50 V168.10 H486.50 V174.40" fill="none" stroke="#2a2a2a" stroke-width="0.75" />
<text x="469.35" y="167.60" font-size="10.0" font-weight="bold" text-anchor="middle" fill="#000" letter-spacing="1.1" font-family="DejaVu Sans, sans-serif" stroke="#000" stroke-width="0.15">*</text>
<circle cx="406.00" cy="291.00" r="2.15" fill="#5b72d8" stroke="#15172a" stroke-width="0.85"/>
<circle cx="410.80" cy="291.00" r="2.15" fill="#5b72d8" stroke="#15172a" stroke-width="0.85"/>
<circle cx="415.60" cy="291.00" r="2.15" fill="#5b72d8" stroke="#15172a" stroke-width="0.85"/>
<circle cx="420.40" cy="291.00" r="2.15" fill="#5b72d8" stroke="#15172a" stroke-width="0.85"/>
<circle cx="425.20" cy="291.00" r="2.15" fill="#5b72d8" stroke="#15172a" stroke-width="0.85"/>
<circle cx="440.80" cy="231.00" r="2.45" fill="#d766dd" stroke="#15172a" stroke-width="0.85"/>
<circle cx="451.00" cy="231.00" r="2.45" fill="#d766dd" stroke="#15172a" stroke-width="0.85"/>
<circle cx="460.60" cy="231.00" r="2.45" fill="#d766dd" stroke="#15172a" stroke-width="0.85"/>
<circle cx="440.80" cy="291.00" r="2.45" fill="#d766dd" stroke="#15172a" stroke-width="0.85"/>
<circle cx="460.60" cy="291.00" r="2.45" fill="#d766dd" stroke="#15172a" stroke-width="0.85"/>
<line x1="391.70" y1="291.00" x2="511.40" y2="291.00" stroke="#000" stroke-width="1.2" opacity="0.55"/>
<circle cx="477.40" cy="182.50" r="2.45" fill="#84d697" stroke="#15172a" stroke-width="0.85"/>
<circle cx="496.00" cy="182.50" r="2.45" fill="#84d697" stroke="#15172a" stroke-width="0.85"/>
<circle cx="486.90" cy="195.00" r="2.45" fill="#84d697" stroke="#15172a" stroke-width="0.85"/>
<circle cx="477.40" cy="206.80" r="2.45" fill="#84d697" stroke="#15172a" stroke-width="0.85"/>
<circle cx="496.00" cy="206.80" r="2.45" fill="#84d697" stroke="#15172a" stroke-width="0.85"/>
<text x="0" y="0" transform="translate(417.50,303.00) rotate(-45)" font-size="8.2" font-weight="bold" text-anchor="end" fill="#000" >MVA</text>
<text x="0" y="0" transform="translate(453.40,303.00) rotate(-45)" font-size="8.2" font-weight="bold" text-anchor="end" fill="#000" >MVA-Sdg</text>
<text x="0" y="0" transform="translate(489.30,303.00) rotate(-45)" font-size="8.2" font-weight="bold" text-anchor="end" fill="#000" >MVA-Spf</text>
<line x1="107.80" y1="494.00" x2="240.50" y2="494.00" stroke="#222" stroke-width="0.9" stroke-dasharray="1.1 2.1"/>
<line x1="107.80" y1="378.84" x2="107.80" y2="501.85" stroke="#000" stroke-width="1.3" />
<line x1="107.15" y1="501.20" x2="241.60" y2="501.20" stroke="#000" stroke-width="1.3" />
<line x1="103.30" y1="494.00" x2="107.80" y2="494.00" stroke="#000" stroke-width="1.0" />
<text x="101.70" y="496.70" font-size="7.5" font-weight="bold" text-anchor="end" fill="#000" >0.0</text>
<line x1="103.30" y1="474.92" x2="107.80" y2="474.92" stroke="#000" stroke-width="1.0" />
<text x="101.70" y="477.62" font-size="7.5" font-weight="bold" text-anchor="end" fill="#000" >0.5</text>
<line x1="103.30" y1="455.83" x2="107.80" y2="455.83" stroke="#000" stroke-width="1.0" />
<text x="101.70" y="458.53" font-size="7.5" font-weight="bold" text-anchor="end" fill="#000" >1.0</text>
<line x1="103.30" y1="436.75" x2="107.80" y2="436.75" stroke="#000" stroke-width="1.0" />
<text x="101.70" y="439.44" font-size="7.5" font-weight="bold" text-anchor="end" fill="#000" >1.5</text>
<line x1="103.30" y1="417.66" x2="107.80" y2="417.66" stroke="#000" stroke-width="1.0" />
<text x="101.70" y="420.36" font-size="7.5" font-weight="bold" text-anchor="end" fill="#000" >2.0</text>
<line x1="103.30" y1="398.57" x2="107.80" y2="398.57" stroke="#000" stroke-width="1.0" />
<text x="101.70" y="401.27" font-size="7.5" font-weight="bold" text-anchor="end" fill="#000" >2.5</text>
<line x1="103.30" y1="379.49" x2="107.80" y2="379.49" stroke="#000" stroke-width="1.0" />
<text x="101.70" y="382.19" font-size="7.5" font-weight="bold" text-anchor="end" fill="#000" >3.0</text>
<line x1="118.30" y1="501.20" x2="118.30" y2="506.30" stroke="#000" stroke-width="1.0" />
<line x1="134.30" y1="501.20" x2="134.30" y2="506.30" stroke="#000" stroke-width="1.0" />
<line x1="150.30" y1="501.20" x2="150.30" y2="506.30" stroke="#000" stroke-width="1.0" />
<line x1="166.30" y1="501.20" x2="166.30" y2="506.30" stroke="#000" stroke-width="1.0" />
<line x1="182.30" y1="501.20" x2="182.30" y2="506.30" stroke="#000" stroke-width="1.0" />
<line x1="198.30" y1="501.20" x2="198.30" y2="506.30" stroke="#000" stroke-width="1.0" />
<line x1="214.30" y1="501.20" x2="214.30" y2="506.30" stroke="#000" stroke-width="1.0" />
<line x1="230.30" y1="501.20" x2="230.30" y2="506.30" stroke="#000" stroke-width="1.0" />
<text x="0" y="0" transform="translate(86.80,440.30) rotate(-90)" font-size="9.9" font-weight="bold" text-anchor="middle" fill="#000" >O.D. (450 nm)</text>
<line x1="118.30" y1="407.00" x2="118.30" y2="441.20" stroke="#86de9a" stroke-width="0.9" />
<line x1="116.20" y1="407.00" x2="120.40" y2="407.00" stroke="#86de9a" stroke-width="0.9" />
<line x1="116.20" y1="441.20" x2="120.40" y2="441.20" stroke="#86de9a" stroke-width="0.9" />
<line x1="134.30" y1="403.80" x2="134.30" y2="424.10" stroke="#86de9a" stroke-width="0.9" />
<line x1="132.20" y1="403.80" x2="136.40" y2="403.80" stroke="#86de9a" stroke-width="0.9" />
<line x1="132.20" y1="424.10" x2="136.40" y2="424.10" stroke="#86de9a" stroke-width="0.9" />
<line x1="150.30" y1="402.40" x2="150.30" y2="431.80" stroke="#86de9a" stroke-width="0.9" />
<line x1="148.20" y1="402.40" x2="152.40" y2="402.40" stroke="#86de9a" stroke-width="0.9" />
<line x1="148.20" y1="431.80" x2="152.40" y2="431.80" stroke="#86de9a" stroke-width="0.9" />
<line x1="166.30" y1="419.30" x2="166.30" y2="483.40" stroke="#86de9a" stroke-width="0.9" />
<line x1="164.20" y1="419.30" x2="168.40" y2="419.30" stroke="#86de9a" stroke-width="0.9" />
<line x1="164.20" y1="483.40" x2="168.40" y2="483.40" stroke="#86de9a" stroke-width="0.9" />
<line x1="182.30" y1="463.30" x2="182.30" y2="481.50" stroke="#86de9a" stroke-width="0.9" />
<line x1="180.20" y1="463.30" x2="184.40" y2="463.30" stroke="#86de9a" stroke-width="0.9" />
<line x1="180.20" y1="481.50" x2="184.40" y2="481.50" stroke="#86de9a" stroke-width="0.9" />
<line x1="198.30" y1="484.00" x2="198.30" y2="489.00" stroke="#86de9a" stroke-width="0.9" />
<line x1="196.20" y1="484.00" x2="200.40" y2="484.00" stroke="#86de9a" stroke-width="0.9" />
<line x1="196.20" y1="489.00" x2="200.40" y2="489.00" stroke="#86de9a" stroke-width="0.9" />
<line x1="214.30" y1="489.50" x2="214.30" y2="492.00" stroke="#86de9a" stroke-width="0.9" />
<line x1="212.20" y1="489.50" x2="216.40" y2="489.50" stroke="#86de9a" stroke-width="0.9" />
<line x1="212.20" y1="492.00" x2="216.40" y2="492.00" stroke="#86de9a" stroke-width="0.9" />
<line x1="118.30" y1="406.00" x2="118.30" y2="437.40" stroke="#86de9a" stroke-width="0.9" />
<line x1="116.20" y1="406.00" x2="120.40" y2="406.00" stroke="#86de9a" stroke-width="0.9" />
<line x1="116.20" y1="437.40" x2="120.40" y2="437.40" stroke="#86de9a" stroke-width="0.9" />
<line x1="134.30" y1="393.10" x2="134.30" y2="443.50" stroke="#86de9a" stroke-width="0.9" />
<line x1="132.20" y1="393.10" x2="136.40" y2="393.10" stroke="#86de9a" stroke-width="0.9" />
<line x1="132.20" y1="443.50" x2="136.40" y2="443.50" stroke="#86de9a" stroke-width="0.9" />
<line x1="150.30" y1="404.00" x2="150.30" y2="463.40" stroke="#86de9a" stroke-width="0.9" />
<line x1="148.20" y1="404.00" x2="152.40" y2="404.00" stroke="#86de9a" stroke-width="0.9" />
<line x1="148.20" y1="463.40" x2="152.40" y2="463.40" stroke="#86de9a" stroke-width="0.9" />
<line x1="166.30" y1="456.20" x2="166.30" y2="483.00" stroke="#86de9a" stroke-width="0.9" />
<line x1="164.20" y1="456.20" x2="168.40" y2="456.20" stroke="#86de9a" stroke-width="0.9" />
<line x1="164.20" y1="483.00" x2="168.40" y2="483.00" stroke="#86de9a" stroke-width="0.9" />
<line x1="182.30" y1="482.50" x2="182.30" y2="490.00" stroke="#86de9a" stroke-width="0.9" />
<line x1="180.20" y1="482.50" x2="184.40" y2="482.50" stroke="#86de9a" stroke-width="0.9" />
<line x1="180.20" y1="490.00" x2="184.40" y2="490.00" stroke="#86de9a" stroke-width="0.9" />
<polyline fill="none" stroke="#84d697" stroke-width="1.1" points="118.30,424.15 134.30,414.61 150.30,416.90 166.30,451.25 182.30,472.24 198.30,486.37 214.30,490.56 230.30,492.09"/>
<polyline fill="none" stroke="#84d697" stroke-width="1.1" points="118.30,421.86 134.30,418.81 150.30,433.69 166.30,469.57 182.30,486.37 198.30,490.56 214.30,492.09 230.30,492.28"/>
<circle cx="118.30" cy="424.15" r="2.3" fill="#84d697" stroke="#15172a" stroke-width="0.75"/>
<circle cx="134.30" cy="414.61" r="2.3" fill="#84d697" stroke="#15172a" stroke-width="0.75"/>
<circle cx="150.30" cy="416.90" r="2.3" fill="#84d697" stroke="#15172a" stroke-width="0.75"/>
<circle cx="166.30" cy="451.25" r="2.3" fill="#84d697" stroke="#15172a" stroke-width="0.75"/>
<circle cx="182.30" cy="472.24" r="2.3" fill="#84d697" stroke="#15172a" stroke-width="0.75"/>
<circle cx="198.30" cy="486.37" r="2.3" fill="#84d697" stroke="#15172a" stroke-width="0.75"/>
<circle cx="214.30" cy="490.56" r="2.3" fill="#84d697" stroke="#15172a" stroke-width="0.75"/>
<circle cx="230.30" cy="492.09" r="2.3" fill="#84d697" stroke="#15172a" stroke-width="0.75"/>
<rect x="116.10" y="419.66" width="4.40" height="4.40" fill="#84d697" stroke="#15172a" stroke-width="0.75" />
<rect x="132.10" y="416.61" width="4.40" height="4.40" fill="#84d697" stroke="#15172a" stroke-width="0.75" />
<rect x="148.10" y="431.49" width="4.40" height="4.40" fill="#84d697" stroke="#15172a" stroke-width="0.75" />
<rect x="164.10" y="467.37" width="4.40" height="4.40" fill="#84d697" stroke="#15172a" stroke-width="0.75" />
<rect x="180.10" y="484.17" width="4.40" height="4.40" fill="#84d697" stroke="#15172a" stroke-width="0.75" />
<rect x="196.10" y="488.36" width="4.40" height="4.40" fill="#84d697" stroke="#15172a" stroke-width="0.75" />
<rect x="212.10" y="489.89" width="4.40" height="4.40" fill="#84d697" stroke="#15172a" stroke-width="0.75" />
<rect x="228.10" y="490.08" width="4.40" height="4.40" fill="#84d697" stroke="#15172a" stroke-width="0.75" />
<polyline fill="none" stroke="#5a9bf0" stroke-width="1.1" points="118.30,490.56 134.30,492.09 150.30,492.09 166.30,492.47 182.30,492.47 198.30,492.47 214.30,492.47 230.30,492.47"/>
<polyline fill="none" stroke="#5a9bf0" stroke-width="1.1" points="118.30,492.28 134.30,492.47 150.30,492.47 166.30,492.66 182.30,492.66 198.30,492.47 214.30,492.47 230.30,492.47"/>
<circle cx="118.30" cy="490.56" r="2.2" fill="#5a9bf0" stroke="#15172a" stroke-width="0.75"/>
<circle cx="134.30" cy="492.09" r="2.2" fill="#5a9bf0" stroke="#15172a" stroke-width="0.75"/>
<circle cx="150.30" cy="492.09" r="2.2" fill="#5a9bf0" stroke="#15172a" stroke-width="0.75"/>
<circle cx="166.30" cy="492.47" r="2.2" fill="#5a9bf0" stroke="#15172a" stroke-width="0.75"/>
<circle cx="182.30" cy="492.47" r="2.2" fill="#5a9bf0" stroke="#15172a" stroke-width="0.75"/>
<circle cx="198.30" cy="492.47" r="2.2" fill="#5a9bf0" stroke="#15172a" stroke-width="0.75"/>
<circle cx="214.30" cy="492.47" r="2.2" fill="#5a9bf0" stroke="#15172a" stroke-width="0.75"/>
<circle cx="230.30" cy="492.47" r="2.2" fill="#5a9bf0" stroke="#15172a" stroke-width="0.75"/>
<rect x="116.20" y="490.18" width="4.20" height="4.20" fill="#5a9bf0" stroke="#15172a" stroke-width="0.75" />
<rect x="132.20" y="490.37" width="4.20" height="4.20" fill="#5a9bf0" stroke="#15172a" stroke-width="0.75" />
<rect x="148.20" y="490.37" width="4.20" height="4.20" fill="#5a9bf0" stroke="#15172a" stroke-width="0.75" />
<rect x="164.20" y="490.56" width="4.20" height="4.20" fill="#5a9bf0" stroke="#15172a" stroke-width="0.75" />
<rect x="180.20" y="490.56" width="4.20" height="4.20" fill="#5a9bf0" stroke="#15172a" stroke-width="0.75" />
<rect x="196.20" y="490.37" width="4.20" height="4.20" fill="#5a9bf0" stroke="#15172a" stroke-width="0.75" />
<rect x="212.20" y="490.37" width="4.20" height="4.20" fill="#5a9bf0" stroke="#15172a" stroke-width="0.75" />
<rect x="228.20" y="490.37" width="4.20" height="4.20" fill="#5a9bf0" stroke="#15172a" stroke-width="0.75" />
<circle cx="189.40" cy="380.60" r="2.0" fill="#5a9bf0" stroke="#15172a" stroke-width="0.7"/>
<rect x="187.30" y="392.60" width="4.20" height="4.20" fill="#5a9bf0" stroke="#15172a" stroke-width="0.7" />
<circle cx="189.40" cy="408.80" r="2.0" fill="#84d697" stroke="#15172a" stroke-width="0.7"/>
<rect x="187.30" y="422.50" width="4.20" height="4.20" fill="#84d697" stroke="#15172a" stroke-width="0.7" />
<text x="201.10" y="383.20" font-size="7.3" font-weight="normal" text-anchor="start" fill="#222" textLength="28.9" lengthAdjust="spacingAndGlyphs">MVA (IM)</text>
<text x="201.10" y="397.30" font-size="7.3" font-weight="normal" text-anchor="start" fill="#222" textLength="32.6" lengthAdjust="spacingAndGlyphs">MVA (SC)</text>
<text x="201.10" y="411.40" font-size="7.3" font-weight="normal" text-anchor="start" fill="#222" textLength="42.9" lengthAdjust="spacingAndGlyphs">MVA-Spf (IM)</text>
<text x="201.10" y="427.20" font-size="7.3" font-weight="normal" text-anchor="start" fill="#222" textLength="46.7" lengthAdjust="spacingAndGlyphs">MVA-Spf (SC)</text>
<text x="0" y="0" transform="translate(120.70,512.50) rotate(-45)" font-size="8.1" font-weight="bold" text-anchor="end" fill="#000" >1:50</text>
<text x="0" y="0" transform="translate(136.70,512.50) rotate(-45)" font-size="8.1" font-weight="bold" text-anchor="end" fill="#000" >1:200</text>
<text x="0" y="0" transform="translate(152.70,512.50) rotate(-45)" font-size="8.1" font-weight="bold" text-anchor="end" fill="#000" >1:800</text>
<text x="0" y="0" transform="translate(168.70,512.50) rotate(-45)" font-size="8.1" font-weight="bold" text-anchor="end" fill="#000" >1:3,200</text>
<text x="0" y="0" transform="translate(184.70,512.50) rotate(-45)" font-size="8.1" font-weight="bold" text-anchor="end" fill="#000" >1:12,800</text>
<text x="0" y="0" transform="translate(200.70,512.50) rotate(-45)" font-size="8.1" font-weight="bold" text-anchor="end" fill="#000" >1:51,200</text>
<text x="0" y="0" transform="translate(216.70,512.50) rotate(-45)" font-size="8.1" font-weight="bold" text-anchor="end" fill="#000" >1:204,800</text>
<text x="0" y="0" transform="translate(232.70,512.50) rotate(-45)" font-size="8.1" font-weight="bold" text-anchor="end" fill="#000" >1:819,200</text>
<rect x="397.70" y="416.20" width="16.40" height="79.00" fill="#84d697" stroke="none" stroke-width="0" />
<rect x="422.80" y="428.80" width="16.30" height="66.40" fill="#84d697" stroke="none" stroke-width="0" />
<line x1="405.80" y1="404.00" x2="405.80" y2="416.20" stroke="#86de9a" stroke-width="1.0" />
<line x1="402.20" y1="404.00" x2="409.60" y2="404.00" stroke="#86de9a" stroke-width="1.0" />
<line x1="430.90" y1="426.60" x2="430.90" y2="428.80" stroke="#86de9a" stroke-width="1.0" />
<line x1="427.30" y1="426.60" x2="434.60" y2="426.60" stroke="#86de9a" stroke-width="1.0" />
<line x1="340.20" y1="385.20" x2="340.20" y2="495.85" stroke="#000" stroke-width="1.3" />
<line x1="339.55" y1="495.20" x2="448.40" y2="495.20" stroke="#000" stroke-width="1.3" />
<line x1="335.70" y1="495.20" x2="340.20" y2="495.20" stroke="#000" stroke-width="1.0" />
<text x="334.10" y="498.08" font-size="8.0" font-weight="bold" text-anchor="end" fill="#000" >0</text>
<line x1="335.70" y1="458.75" x2="340.20" y2="458.75" stroke="#000" stroke-width="1.0" />
<text x="334.10" y="461.63" font-size="8.0" font-weight="bold" text-anchor="end" fill="#000" >1</text>
<line x1="335.70" y1="422.30" x2="340.20" y2="422.30" stroke="#000" stroke-width="1.0" />
<text x="334.10" y="425.18" font-size="8.0" font-weight="bold" text-anchor="end" fill="#000" >2</text>
<line x1="335.70" y1="385.85" x2="340.20" y2="385.85" stroke="#000" stroke-width="1.0" />
<text x="334.10" y="388.73" font-size="8.0" font-weight="bold" text-anchor="end" fill="#000" >3</text>
<line x1="356.10" y1="495.20" x2="356.10" y2="500.30" stroke="#000" stroke-width="1.0" />
<line x1="381.00" y1="495.20" x2="381.00" y2="500.30" stroke="#000" stroke-width="1.0" />
<line x1="405.80" y1="495.20" x2="405.80" y2="500.30" stroke="#000" stroke-width="1.0" />
<line x1="430.50" y1="495.20" x2="430.50" y2="500.30" stroke="#000" stroke-width="1.0" />
<text transform="translate(306.2,482.2) rotate(-90)" font-size="10" font-weight="bold" text-anchor="start"><tspan textLength="79.6" lengthAdjust="spacingAndGlyphs">SARS-CoV-2 &#160;NT</tspan><tspan font-size="7.2" dy="2.0" letter-spacing="-0.3">50</tspan></text>
<text x="0" y="0" transform="translate(319.60,438.40) rotate(-90)" font-size="10" font-weight="bold" text-anchor="middle" fill="#000" textLength="37.2" lengthAdjust="spacingAndGlyphs">(log 10)</text>
<path d="M381.20,379.20 V376.20 H430.80 V422.40" fill="none" stroke="#2a2a2a" stroke-width="0.75" />
<text x="407.05" y="373.91" font-size="10.0" font-weight="bold" text-anchor="middle" fill="#000" letter-spacing="1.1" font-family="DejaVu Sans, sans-serif" stroke="#000" stroke-width="0.15">**</text>
<path d="M356.30,491.30 V394.20 H406.00 V400.00" fill="none" stroke="#2a2a2a" stroke-width="0.75" />
<text x="382.05" y="391.81" font-size="10.0" font-weight="bold" text-anchor="middle" fill="#000" letter-spacing="1.1" font-family="DejaVu Sans, sans-serif" stroke="#000" stroke-width="0.15">**</text>
<circle cx="350.80" cy="495.20" r="1.9" fill="#4f82e4" stroke="#15172a" stroke-width="0.85"/>
<circle cx="353.80" cy="495.20" r="1.9" fill="#4f82e4" stroke="#15172a" stroke-width="0.85"/>
<circle cx="356.60" cy="495.20" r="1.9" fill="#4f82e4" stroke="#15172a" stroke-width="0.85"/>
<circle cx="359.50" cy="495.20" r="1.9" fill="#4f82e4" stroke="#15172a" stroke-width="0.85"/>
<circle cx="362.40" cy="495.20" r="1.9" fill="#4f82e4" stroke="#15172a" stroke-width="0.85"/>
<circle cx="375.90" cy="495.20" r="1.9" fill="#4f82e4" stroke="#15172a" stroke-width="0.85"/>
<circle cx="378.80" cy="495.20" r="1.9" fill="#4f82e4" stroke="#15172a" stroke-width="0.85"/>
<circle cx="381.70" cy="495.20" r="1.9" fill="#4f82e4" stroke="#15172a" stroke-width="0.85"/>
<circle cx="384.60" cy="495.20" r="1.9" fill="#4f82e4" stroke="#15172a" stroke-width="0.85"/>
<circle cx="387.20" cy="495.20" r="1.9" fill="#4f82e4" stroke="#15172a" stroke-width="0.85"/>
<line x1="340.20" y1="495.20" x2="448.40" y2="495.20" stroke="#000" stroke-width="1.2" opacity="0.55"/>
<circle cx="399.90" cy="407.50" r="1.95" fill="#84d697" stroke="#15172a" stroke-width="0.85"/>
<circle cx="405.90" cy="407.50" r="1.95" fill="#84d697" stroke="#15172a" stroke-width="0.85"/>
<circle cx="412.20" cy="407.50" r="1.95" fill="#84d697" stroke="#15172a" stroke-width="0.85"/>
<circle cx="399.90" cy="429.30" r="1.95" fill="#84d697" stroke="#15172a" stroke-width="0.85"/>
<circle cx="412.20" cy="429.30" r="1.95" fill="#84d697" stroke="#15172a" stroke-width="0.85"/>
<circle cx="425.20" cy="429.30" r="1.95" fill="#84d697" stroke="#15172a" stroke-width="0.85"/>
<circle cx="428.90" cy="429.30" r="1.95" fill="#84d697" stroke="#15172a" stroke-width="0.85"/>
<circle cx="432.80" cy="429.30" r="1.95" fill="#84d697" stroke="#15172a" stroke-width="0.85"/>
<circle cx="436.80" cy="429.30" r="1.95" fill="#84d697" stroke="#15172a" stroke-width="0.85"/>
<circle cx="429.10" cy="440.50" r="1.95" fill="#84d697" stroke="#15172a" stroke-width="0.85"/>
<text x="0" y="0" transform="translate(359.50,506.60) rotate(-45)" font-size="8.5" font-weight="bold" text-anchor="end" fill="#000" >MVA (IM)</text>
<text x="0" y="0" transform="translate(384.40,506.60) rotate(-45)" font-size="8.5" font-weight="bold" text-anchor="end" fill="#000" >MVA (SC)</text>
<text x="0" y="0" transform="translate(409.20,506.60) rotate(-45)" font-size="8.5" font-weight="bold" text-anchor="end" fill="#000" >MVA-Spf (IM)</text>
<text x="0" y="0" transform="translate(433.90,506.60) rotate(-45)" font-size="8.5" font-weight="bold" text-anchor="end" fill="#000" >MVA-Spf (SC)</text>
</svg></body></html>
